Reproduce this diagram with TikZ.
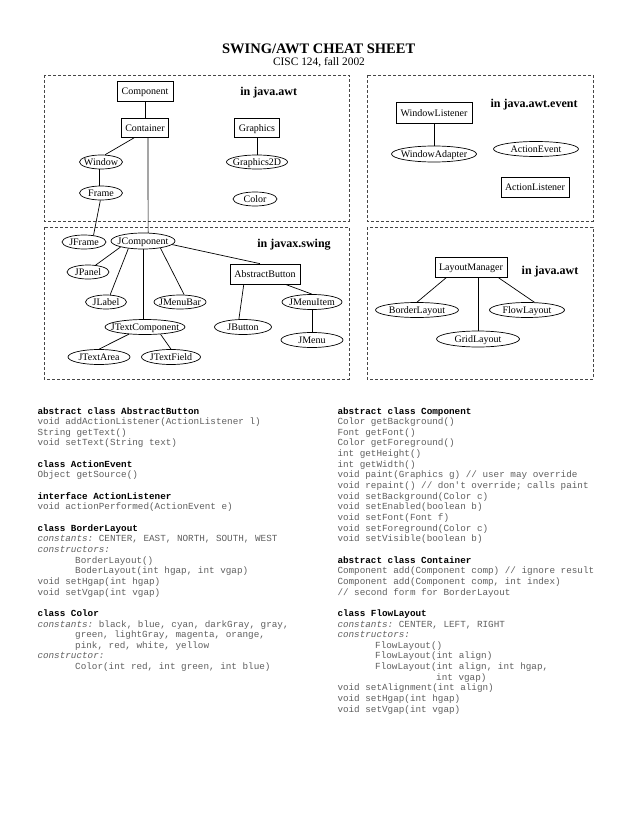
\documentclass[tikz,border=0pt]{standalone}
\usepackage{fontspec}
\setmainfont{Liberation Serif}
\setmonofont{Liberation Mono}
\usetikzlibrary{shapes.geometric}
\definecolor{codegray}{RGB}{95,95,95}
\definecolor{dashgray}{RGB}{70,70,70}
\newcommand{\ellt}[1]{\makebox[0pt]{#1}}
\newcommand{\hdr}[1]{{\bfseries\color{black}#1}}
\newcommand{\ind}{\hspace*{37.7pt}}
\begin{document}
\begin{tikzpicture}[x=1pt,y=-1pt,
  cls/.style={draw, rectangle, inner sep=0pt, line width=0.7pt, text height=6.6pt, text depth=0pt, font=\fontsize{10}{12}\selectfont},
  ell/.style={draw, ellipse, inner sep=0pt, line width=0.7pt, text height=6.6pt, text depth=0pt, font=\fontsize{10}{12}\selectfont},
  pkg/.style={font=\bfseries\fontsize{12}{14}\selectfont},
  pkgbox/.style={draw=dashgray, line width=0.8pt, dash pattern=on 3pt off 2pt},
  conn/.style={draw, line width=0.7pt},
  code/.style={anchor=base west, inner sep=0pt, text=codegray, font=\ttfamily\fontsize{9.3}{10.65}\selectfont}
]
\useasboundingbox (0,0) rectangle (638,826);
\fill[white] (0,0) rectangle (638,826);

% title
\node[anchor=base, font=\bfseries\fontsize{14.5}{17}\selectfont] (title) at (318.7,53.3) {SWING/AWT CHEAT SHEET};
\node[anchor=base, font=\fontsize{11.4}{13}\selectfont] (subtitle) at (319,66) {CISC 124, fall 2002};

% package boxes
\draw[pkgbox] (44,75) rectangle (349,221);
\draw[pkgbox] (367,75) rectangle (593,221);
\draw[pkgbox] (44,227) rectangle (349,379);
\draw[pkgbox] (367,227) rectangle (593,379);

% package labels
\node[pkg] (lawt) at (268.7,93) {in java.awt};
\node[pkg] (levent) at (534,104.5) {in java.awt.event};
\node[pkg] (lswing) at (294,245) {in javax.swing};
\node[pkg] (lawt2) at (550,272) {in java.awt};

% java.awt
\node[cls, minimum width=56pt, minimum height=20pt] (component) at (145,91) {Component};
\node[cls, minimum width=47pt, minimum height=19pt] (container) at (145,128) {Container};
\node[cls, minimum width=45pt, minimum height=19pt] (graphics) at (257,128) {Graphics};
\node[ell, minimum width=43pt, minimum height=14pt] (window) at (101,162) {\ellt{Window}};
\node[ell, minimum width=61pt, minimum height=14pt] (g2d) at (257,162) {\ellt{Graphics2D}};
\node[ell, minimum width=43pt, minimum height=14pt] (frame) at (101,193) {\ellt{Frame}};
\node[ell, minimum width=44pt, minimum height=14pt] (color) at (255,199) {\ellt{Color}};

% java.awt.event
\node[cls, minimum width=76pt, minimum height=21pt] (wl) at (434,113) {WindowListener};
\node[ell, minimum width=85pt, minimum height=16pt] (wa) at (434,154) {\ellt{WindowAdapter}};
\node[ell, minimum width=85pt, minimum height=15pt] (ae) at (536,149) {\ellt{ActionEvent}};
\node[cls, minimum width=68pt, minimum height=20pt] (al) at (535,187) {ActionListener};

% javax.swing
\node[ell, minimum width=44pt, minimum height=14pt] (jframe) at (84,242) {\ellt{JFrame}};
\node[ell, minimum width=64pt, minimum height=16pt] (jcomp) at (143,241) {\ellt{JComponent}};
\node[ell, minimum width=42pt, minimum height=14pt] (jpanel) at (88,272) {\ellt{JPanel}};
\node[cls, minimum width=70pt, minimum height=20pt] (ab) at (265,274) {AbstractButton};
\node[ell, minimum width=41pt, minimum height=14pt] (jlabel) at (106,302) {\ellt{JLabel}};
\node[ell, minimum width=52pt, minimum height=14pt] (jmenubar) at (180,302) {\ellt{JMenuBar}};
\node[ell, minimum width=60pt, minimum height=15pt] (jmenuitem) at (312,302) {\ellt{JMenuItem}};
\node[ell, minimum width=80pt, minimum height=15pt] (jtc) at (145,327) {\ellt{JTextComponent}};
\node[ell, minimum width=57pt, minimum height=15pt] (jbutton) at (243,327) {\ellt{JButton}};
\node[ell, minimum width=62pt, minimum height=15pt] (jmenu) at (312,340) {\ellt{JMenu}};
\node[ell, minimum width=62pt, minimum height=15pt] (jtextarea) at (99,357) {\ellt{JTextArea}};
\node[ell, minimum width=59pt, minimum height=15pt] (jtextfield) at (171,357) {\ellt{JTextField}};

% layout managers
\node[cls, minimum width=72pt, minimum height=20pt] (lm) at (471,267) {LayoutManager};
\node[ell, minimum width=83pt, minimum height=15pt] (border) at (417,310) {\ellt{BorderLayout}};
\node[ell, minimum width=75pt, minimum height=15pt] (flow) at (527,310) {\ellt{FlowLayout}};
\node[ell, minimum width=83pt, minimum height=16pt] (grid) at (478,339) {\ellt{GridLayout}};

% connectors
\path[conn] (component.south) -- (container.north);
\path[conn] (container.222) -- (window.61);
\path[conn] ([xshift=3pt]container.south) -- (jcomp.58);
\path[conn] (graphics.south) -- (g2d.north);
\path[conn] ([xshift=-2pt]window.south) -- ([xshift=-2pt]frame.north);
\path[conn] (frame.265) -- (jframe.35);
\path[conn] (wl.south) -- (wa.north);
\path[conn] (jcomp.195) -- (jpanel.42);
\path[conn] (jcomp.207) -- (jlabel.60);
\path[conn] (jcomp.south) -- (jcomp.south |- jtc.north);
\path[conn] (jcomp.338) -- (jmenubar.60);
\path[conn] (jcomp.353) -- (ab.116.6);
\path[conn] (ab.206.6) -- (jbutton.118);
\path[conn] (ab.333.4) -- (jmenuitem.north);
\path[conn] (jmenuitem.south) -- (jmenu.north);
\path[conn] (jtc.204.9) -- (jtextarea.north);
\path[conn] (jtc.335) -- (jtextfield.north);
\path[conn] (lm.203.5) -- (border.north);
\path[conn] (grid.north |- lm.south) -- (grid.north);
\path[conn] (lm.339.7) -- (flow.46.5);

% code, left column
\node[code] (codeleft) at (37.3,414) {\begin{tabular}[t]{@{}l@{}}
\hdr{abstract class AbstractButton}\\
void addActionListener(ActionListener l)\\
String getText()\\
void setText(String text)\\
\\
\hdr{class ActionEvent}\\
Object getSource()\\
\\
\hdr{interface ActionListener}\\
void actionPerformed(ActionEvent e)\\
\\
\hdr{class BorderLayout}\\
\textit{constants:} CENTER, EAST, NORTH, SOUTH, WEST\\
\textit{constructors:}\\
\ind BorderLayout()\\
\ind BoderLayout(int hgap, int vgap)\\
void setHgap(int hgap)\\
void setVgap(int vgap)\\
\\
\hdr{class Color}\\
\textit{constants:} black, blue, cyan, darkGray, gray,\\
\ind green, lightGray, magenta, orange,\\
\ind pink, red, white, yellow\\
\textit{constructor:}\\
\ind Color(int red, int green, int blue)
\end{tabular}};

% code, right column
\node[code] (coderight) at (337.3,414) {\begin{tabular}[t]{@{}l@{}}
\hdr{abstract class Component}\\
Color getBackground()\\
Font getFont()\\
Color getForeground()\\
int getHeight()\\
int getWidth()\\
void paint(Graphics g) // user may override\\
void repaint() // don't override; calls paint\\
void setBackground(Color c)\\
void setEnabled(boolean b)\\
void setFont(Font f)\\
void setForeground(Color c)\\
void setVisible(boolean b)\\
\\
\hdr{abstract class Container}\\
Component add(Component comp) // ignore result\\
Component add(Component comp, int index)\\
// second form for BorderLayout\\
\\
\hdr{class FlowLayout}\\
\textit{constants:} CENTER, LEFT, RIGHT\\
\textit{constructors:}\\
\ind FlowLayout()\\
\ind FlowLayout(int align)\\
\ind FlowLayout(int align, int hgap,\\
\hspace*{98.7pt}int vgap)\\
void setAlignment(int align)\\
void setHgap(int hgap)\\
void setVgap(int vgap)
\end{tabular}};
\end{tikzpicture}
\end{document}
